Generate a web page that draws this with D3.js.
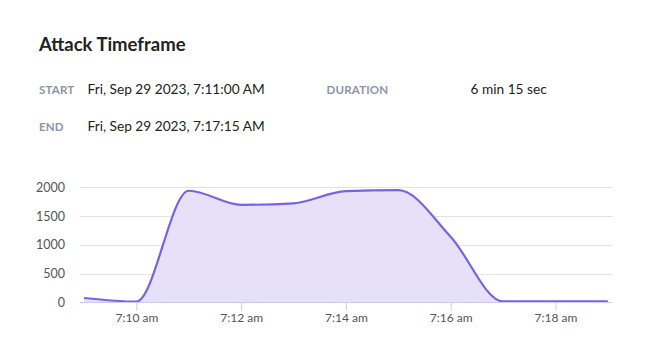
<!DOCTYPE html>
<html>
<head>
<meta charset="utf-8">
<script src="https://cdn.jsdelivr.net/npm/d3@7"></script>
<style>
  html, body { margin: 0; padding: 0; background: #fff; }
  svg { display: block; }
</style>
</head>
<body>
<svg id="chart" width="655" height="357"></svg>
<script>
// ---- data ----
const times = ["07:09","07:10","07:11","07:12","07:13","07:14","07:15","07:16","07:17","07:18","07:19"];
const values = [75, 12, 1940, 1695, 1722, 1935, 1950, 1140, 15, 15, 15];
const yTicks = [0, 500, 1000, 1500, 2000];
const xTickTimes = ["07:10","07:12","07:14","07:16","07:18"];
const title = "Attack Timeframe";
const infoLabels = ["START", "END", "DURATION"];
const infoValues = ["Fri, Sep 29 2023, 7:11:00 AM", "Fri, Sep 29 2023, 7:17:15 AM", "6 min 15 sec"];

const parse = s => { const [h, m] = s.split(":").map(Number); return new Date(2023, 8, 29, h, m, 0); };
const data = times.map((t, i) => ({ t: parse(t), v: values[i] }));

const svg = d3.select("#chart");
const font = "Lato, 'Open Sans', sans-serif";

// header
svg.append("text").attr("x", 39).attr("y", 50.5)
  .attr("font-family", font).attr("font-weight", 700).attr("font-size", 18.5)
  .attr("fill", "#222").text(title);

const labelStyle = sel => sel.attr("font-family", font).attr("font-weight", 700)
  .attr("font-size", 11.5).attr("fill", "#8b95a7").attr("letter-spacing", 0.2);
const valueStyle = sel => sel.attr("font-family", font).attr("font-weight", 400)
  .attr("font-size", 13.7).attr("fill", "#222");

labelStyle(svg.append("text").attr("x", 39).attr("y", 94).text(infoLabels[0]));
valueStyle(svg.append("text").attr("x", 87.5).attr("y", 94).text(infoValues[0]));
labelStyle(svg.append("text").attr("x", 39).attr("y", 131).text(infoLabels[1]));
valueStyle(svg.append("text").attr("x", 87.5).attr("y", 131).text(infoValues[1]));
labelStyle(svg.append("text").attr("x", 326.5).attr("y", 94).text(infoLabels[2]));
valueStyle(svg.append("text").attr("x", 470.5).attr("y", 94).text(infoValues[2]));

// chart
const plotLeft = 80, plotRight = 612.7;
const x = d3.scaleTime().domain([parse(times[0]), parse(times[times.length - 1])]).range([84, 607.8]);
const y = d3.scaleLinear().domain([0, 2000]).range([302.3, 187.3]);

// gridlines
svg.append("g").selectAll("line").data(yTicks.slice(1)).join("line")
  .attr("x1", plotLeft).attr("x2", plotRight)
  .attr("y1", d => Math.round(y(d)) + 0.5).attr("y2", d => Math.round(y(d)) + 0.5)
  .attr("stroke", "#e3e3e6").attr("stroke-width", 1);

// y axis labels
const yAxis = d3.axisLeft(y).tickValues(yTicks).tickSize(0).tickPadding(15).tickFormat(d3.format("d"));
const yg = svg.append("g").attr("transform", `translate(${plotLeft},0)`).call(yAxis);
yg.select(".domain").remove();
yg.selectAll("text").attr("font-family", font).attr("font-size", 12.5).attr("fill", "#555");

// area + line
const area = d3.area().curve(d3.curveMonotoneX).x(d => x(d.t)).y0(y(0)).y1(d => y(d.v));
const line = d3.line().curve(d3.curveMonotoneX).x(d => x(d.t)).y(d => y(d.v));
svg.append("path").datum(data).attr("d", area).attr("fill", "#e6e1f8");
svg.append("path").datum(data).attr("d", line).attr("fill", "none")
  .attr("stroke", "#7b62de").attr("stroke-width", 2.2).attr("stroke-linejoin", "round");

// x axis
svg.append("line").attr("x1", plotLeft).attr("x2", plotRight).attr("y1", 302.5).attr("y2", 302.5)
  .attr("stroke", "#c9cdec").attr("stroke-width", 1);
const xAxis = d3.axisBottom(x).tickValues(xTickTimes.map(parse)).tickSize(8).tickPadding(3)
  .tickFormat(d => d3.timeFormat("%-I:%M")(d) + " am");
const xg = svg.append("g").attr("transform", "translate(0,302.5)").call(xAxis);
xg.select(".domain").remove();
xg.selectAll(".tick line").attr("stroke", "#c9cdec");
xg.selectAll("text").attr("font-family", font).attr("font-size", 12).attr("fill", "#555");
</script>
</body>
</html>
